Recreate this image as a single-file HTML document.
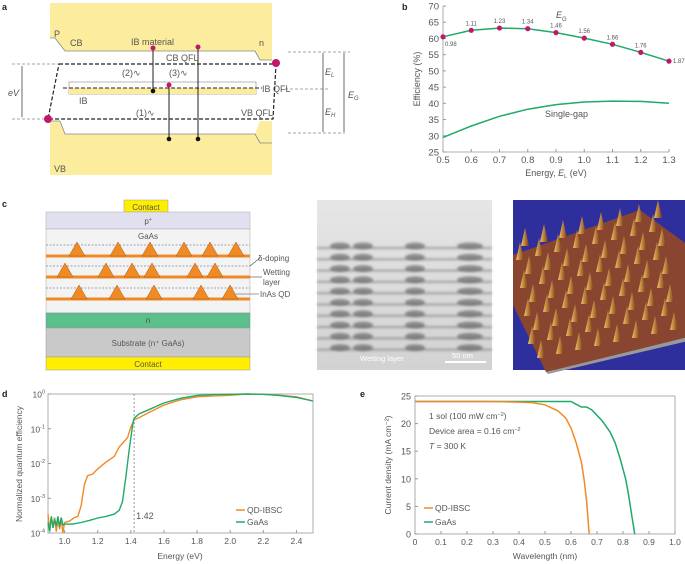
<!DOCTYPE html>
<html><head><meta charset="utf-8"><style>
body{margin:0;background:#fff}
svg{display:block;font-family:"Liberation Sans",sans-serif}
text{fill:#555}
</style></head><body>
<svg id="fig" width="685" height="564" viewBox="0 0 685 564">
<defs>
<linearGradient id="tem" x1="0" y1="0" x2="0" y2="1"><stop offset="0" stop-color="#e6e6e6"/><stop offset="1" stop-color="#d2d2d2"/></linearGradient>
<linearGradient id="cone" x1="0" y1="0" x2="1" y2="0"><stop offset="0" stop-color="#f3c46a"/><stop offset="1" stop-color="#7a3a10"/></linearGradient>
<filter id="blur"><feGaussianBlur stdDeviation="1.2"/></filter>
</defs>
<!-- Panel a -->
<g>
<text x="2" y="10" font-size="9" font-weight="bold" style="fill:#222">a</text>
<rect x="50" y="3" width="222" height="172" fill="#fbec9e"/>
<path d="M50,38 L55,38 L65,51 L255,51 L260,60 L272,60 L272,121 L260,121 L255,134 L65,134 L60,121 L50,121 Z" fill="#fff" stroke="none"/>
<path d="M50,38 L55,38 L65,51 L255,51 L260,60 L272,60" fill="none" stroke="#888" stroke-width="0.8"/>
<path d="M50,121 L60,121 L65,134 L255,134 L260,143 L272,143" fill="none" stroke="#888" stroke-width="0.8"/>
<rect x="69" y="82" width="187" height="12" fill="#fff" stroke="#999" stroke-width="0.7"/>
<rect x="69" y="88" width="187" height="6" fill="#fbec9e"/>
<path d="M59,64 L276,64 L273,119 L48,119 Z" fill="none" stroke="#222" stroke-width="1.2" stroke-dasharray="4,2"/>
<line x1="63" y1="88" x2="262" y2="88" stroke="#222" stroke-dasharray="4,2"/>
<line x1="12" y1="64" x2="59" y2="64" stroke="#888" stroke-width="0.7" stroke-dasharray="3,2"/>
<line x1="12" y1="119" x2="48" y2="119" stroke="#888" stroke-width="0.7" stroke-dasharray="3,2"/>
<line x1="22" y1="66" x2="22" y2="117" stroke="#444" stroke-width="0.8"/>
<line x1="288" y1="52" x2="350" y2="52" stroke="#888" stroke-width="0.7" stroke-dasharray="3,2"/>
<line x1="285" y1="89" x2="330" y2="89" stroke="#888" stroke-width="0.7" stroke-dasharray="3,2"/>
<line x1="288" y1="133" x2="345" y2="133" stroke="#888" stroke-width="0.7" stroke-dasharray="3,2"/>
<line x1="323" y1="53" x2="323" y2="132" stroke="#444" stroke-width="0.8"/>
<line x1="344" y1="53" x2="344" y2="132" stroke="#444" stroke-width="0.8"/>
<line x1="153" y1="49" x2="153" y2="91" stroke="#222"/>
<line x1="169" y1="85" x2="169" y2="139" stroke="#222"/>
<line x1="198" y1="49" x2="198" y2="139" stroke="#222"/>
<circle cx="153" cy="48" r="2.5" fill="#c2186b"/><circle cx="198" cy="47" r="2.5" fill="#c2186b"/><circle cx="169" cy="85" r="2.5" fill="#c2186b"/>
<circle cx="153" cy="91" r="2.3" fill="#111"/><circle cx="169" cy="139" r="2.3" fill="#111"/><circle cx="198" cy="139" r="2.3" fill="#111"/>
<circle cx="276" cy="63" r="4" fill="#c2186b"/><circle cx="48" cy="119" r="4" fill="#c2186b"/>
<g font-size="9">
<text x="54" y="37">P</text><text x="70" y="46">CB</text><text x="131" y="45">IB material</text><text x="259" y="46">n</text>
<text x="166" y="61">CB QFL</text><text x="122" y="76">(2)∿</text><text x="169" y="76">(3)∿</text>
<text x="79" y="104">IB</text><text x="136" y="116">(1)∿</text><text x="262" y="92">IB QFL</text><text x="241" y="116">VB QFL</text>
<text x="8" y="96" font-style="italic">eV</text><text x="325" y="75" font-style="italic">E<tspan font-size="6" dy="2">L</tspan></text>
<text x="325" y="115" font-style="italic">E<tspan font-size="6" dy="2">H</tspan></text><text x="348" y="98" font-style="italic">E<tspan font-size="6" dy="2">G</tspan></text>
<text x="54" y="172">VB</text></g>
</g>
<!-- Panel b -->
<g id="pb">
<text x="402" y="10" font-size="9" font-weight="bold" style="fill:#222">b</text>
</g>
<!-- Panel c -->
<g>
<text x="2" y="207" font-size="9" font-weight="bold" style="fill:#222">c</text>
<rect x="124" y="200" width="44" height="12" fill="#ffee00" stroke="#999" stroke-width="0.5"/>
<text x="146" y="210" font-size="8" text-anchor="middle">Contact</text>
<rect x="46" y="212" width="204" height="17" fill="#e1e0ef" stroke="#aaa" stroke-width="0.5"/>
<text x="148" y="224" font-size="8" text-anchor="middle">p<tspan font-size="5" dy="-3">+</tspan></text>
<rect x="46" y="229" width="204" height="84" fill="#f3f3f3" stroke="#aaa" stroke-width="0.5"/>
<text x="148" y="239" font-size="8" text-anchor="middle">GaAs</text>
<rect x="46" y="313" width="204" height="15" fill="#5cc08a" stroke="#888" stroke-width="0.5"/>
<text x="148" y="323" font-size="8" text-anchor="middle">n</text>
<rect x="46" y="328" width="204" height="29" fill="#c9c9c9" stroke="#999" stroke-width="0.5"/>
<text x="148" y="346" font-size="8" text-anchor="middle">Substrate (n⁺ GaAs)</text>
<rect x="46" y="357" width="204" height="13" fill="#ffee00" stroke="#999" stroke-width="0.5"/>
<text x="148" y="367" font-size="8" text-anchor="middle">Contact</text>
<g id="layers"></g>
<g font-size="8"><text x="258" y="261">δ-doping</text><text x="263" y="275">Wetting</text><text x="263" y="285">layer</text><text x="260" y="297">InAs QD</text></g>
<line x1="250" y1="266" x2="260" y2="258" stroke="#444" stroke-width="0.6"/>
<line x1="250" y1="277" x2="262" y2="277" stroke="#444" stroke-width="0.6"/>
<line x1="236" y1="294" x2="259" y2="294" stroke="#444" stroke-width="0.6"/>
<rect x="317" y="200" width="175" height="170" fill="url(#tem)"/>
<g id="tem-bands" filter="url(#blur)"></g>
<text x="360" y="361" font-size="7.5" style="fill:#fff">Wetting layer</text>
<line x1="445" y1="362" x2="486" y2="362" stroke="#fff" stroke-width="2"/>
<text x="452" y="358" font-size="7.5" style="fill:#fff">50 nm</text>
<rect x="513" y="200" width="175" height="170" fill="#2e2f9c"/>
<polygon points="513,255 640,210 688,245 688,337 546,372 513,305" fill="#8a4530"/>
<polygon points="546,372 688,337 688,341 548,374" fill="#999"/>
<g id="cones"></g>
</g>
<!-- Panel d -->
<g id="pd">
<text x="2" y="397" font-size="9" font-weight="bold" style="fill:#222">d</text>
</g>
<!-- Panel e -->
<g id="pe">
<text x="360" y="397" font-size="9" font-weight="bold" style="fill:#222">e</text>
</g>
</svg>
<script>
// Panel b data
const bEnergy=[0.5,0.6,0.7,0.8,0.9,1.0,1.1,1.2,1.3];
const bIB=[60.5,62.5,63.2,63.0,61.8,60.1,58.2,55.7,53.0];
const bEG=["0.98","1.11","1.23","1.34","1.46","1.56","1.66","1.76","1.87"];
const bSingle=[29.5,33.0,36.0,38.2,39.6,40.4,40.7,40.6,40.0];
const bXTicks=[0.5,0.6,0.7,0.8,0.9,1.0,1.1,1.2,1.3];
const bYTicks=[25,30,35,40,45,50,55,60,65,70];
// Panel d data
const dEnergyQD=[0.9,0.91,0.92,0.93,0.94,0.95,0.96,0.97,0.98,0.99,1.0,1.03,1.06,1.08,1.1,1.12,1.14,1.17,1.2,1.25,1.3,1.33,1.35,1.38,1.4,1.42,1.45,1.5,1.6,1.7,1.8,1.9,2.0,2.1,2.2,2.3,2.4,2.5];
const dQD=[3.5e-4,1.2e-4,3e-4,1.5e-4,2.8e-4,1.1e-4,2.5e-4,1.3e-4,2.6e-4,1e-4,2e-4,2.2e-4,2.8e-4,3e-4,6e-4,2.5e-3,4.5e-3,5e-3,7e-3,1.1e-2,1.6e-2,3e-2,3.8e-2,5.5e-2,1.1e-1,1.8e-1,2.1e-1,2.8e-1,4.8e-1,6.8e-1,8.3e-1,8.8e-1,9.2e-1,1.0,9.8e-1,9.2e-1,8.3e-1,6.3e-1];
const dEnergyGaAs=[0.9,0.91,0.92,0.93,0.94,0.95,0.96,0.97,0.98,0.99,1.0,1.05,1.1,1.15,1.2,1.25,1.3,1.33,1.35,1.37,1.39,1.41,1.42,1.45,1.5,1.6,1.7,1.8,1.9,2.0,2.1,2.2,2.3,2.4,2.5];
const dGaAs=[2e-4,1.1e-4,3e-4,1.4e-4,2.5e-4,1.6e-4,3e-4,1.5e-4,2.8e-4,1.7e-4,1.8e-4,1.8e-4,2e-4,2.3e-4,2.7e-4,3e-4,3.5e-4,4.5e-4,8e-4,4e-3,2.5e-2,1.2e-1,2e-1,2.7e-1,3.4e-1,5.5e-1,7.5e-1,9.1e-1,9.6e-1,9.8e-1,1.0,9.8e-1,9e-1,8e-1,6.3e-1];
const dXTicks=[1.0,1.2,1.4,1.6,1.8,2.0,2.2,2.4];
const dYExp=[0,-1,-2,-3,-4];
// Panel e data
const eVqd=[0,0.1,0.2,0.3,0.4,0.45,0.5,0.55,0.58,0.6,0.62,0.64,0.65,0.66,0.67];
const eJqd=[24,24,24,24,23.9,23.8,23.4,22.3,21,19.2,16.5,13,10,6,0];
const eVgaas=[0,0.1,0.2,0.3,0.4,0.5,0.6,0.62,0.64,0.66,0.68,0.7,0.72,0.75,0.77,0.79,0.81,0.82,0.83,0.84,0.845];
const eJgaas=[24,24,24,24,24,24,24,23.5,23,23,22.5,21.5,20.5,18.5,16.5,13.5,10,7.5,4.5,1.5,0];
const eXTicks=[0,0.1,0.2,0.3,0.4,0.5,0.6,0.7,0.8,0.9,1.0];
const eYTicks=[0,5,10,15,20,25];

const NS="http://www.w3.org/2000/svg";
function mk(parent,tag,attrs,txt){const e=document.createElementNS(NS,tag);for(const k in attrs)e.setAttribute(k,attrs[k]);if(txt!==undefined)e.textContent=txt;parent.appendChild(e);return e;}
const GREEN="#1faa6a",ORANGE="#f08a24",AX="#999";

// Panel b
(function(){const g=document.getElementById('pb');
const X0=443,X1=669,Y0=152,Y1=6;
const sx=v=>X0+(v-0.5)/(0.8)*(X1-X0), sy=v=>Y0-(v-25)/45*(Y0-Y1);
const ax=mk(g,'path',{d:`M${X0},${Y1} L${X0},${Y0} L${X1},${Y0}`,fill:'none',stroke:AX,'stroke-width':0.8});

bYTicks.forEach(t=>{mk(g,'line',{x1:X0,x2:X0+3,y1:sy(t),y2:sy(t),stroke:AX});const l=mk(g,'text',{x:X0-4,y:sy(t)+3.5,'font-size':9.5,'text-anchor':'end'},t);
});
bXTicks.forEach(t=>{mk(g,'line',{x1:sx(t),x2:sx(t),y1:Y0,y2:Y0-3,stroke:AX});const l=mk(g,'text',{x:sx(t),y:Y0+11,'font-size':9.5,'text-anchor':'middle'},t.toFixed(1));
});
const line=(xs,ys)=>xs.map((x,i)=>(i?'L':'M')+sx(x).toFixed(1)+','+sy(ys[i]).toFixed(1)).join(' ');
const l1=mk(g,'path',{d:line(bEnergy,bIB),fill:'none',stroke:GREEN,'stroke-width':1.5});

const l2=mk(g,'path',{d:line(bEnergy,bSingle),fill:'none',stroke:GREEN,'stroke-width':1.5});

bEnergy.forEach((x,i)=>{const c=mk(g,'circle',{cx:sx(x),cy:sy(bIB[i]),r:2.6,fill:'#c2186b'});

let tx=sx(x),ty=sy(bIB[i])-5,anc='middle';if(i===0){tx+=2;ty=sy(bIB[i])+9;anc='start';}if(i===bEnergy.length-1){tx+=4;ty=sy(bIB[i])+2;anc='start';}
const t=mk(g,'text',{x:tx,y:ty,'font-size':6,'text-anchor':anc},bEG[i]);});
const eg=mk(g,'text',{x:556,y:18,'font-size':9,'font-style':'italic'},'E');mk(eg,'tspan',{dy:3,'font-size':6,'font-style':'normal'},'G');
mk(g,'text',{x:545,y:117,'font-size':9},'Single-gap');
const yl=mk(g,'text',{x:0,y:0,'font-size':9,'text-anchor':'middle',transform:`translate(420,79) rotate(-90)`},'Efficiency (%)');

const xl=mk(g,'text',{x:556,y:176,'font-size':9,'text-anchor':'middle'},'Energy, ');

mk(xl,'tspan',{'font-style':'italic'},'E');mk(xl,'tspan',{dy:2,'font-size':5.5},'L');mk(xl,'tspan',{dy:-2},' (eV)');
})();

// Panel c layers
(function(){const g=document.getElementById('layers');
const rows=[{y:256,xs:[77,118,150,184,210,236]},{y:277,xs:[65,106,132,152,195,215]},{y:299,xs:[79,117,154,201,230]}];
rows.forEach(r=>{mk(g,'line',{x1:46,x2:250,y1:r.y-11,y2:r.y-11,stroke:'#555','stroke-width':0.6,'stroke-dasharray':'2,1.5'});
mk(g,'rect',{x:46,y:r.y-1.5,width:204,height:3,fill:ORANGE});
r.xs.forEach(x=>{const p=mk(g,'polygon',{points:`${x-8},${r.y} ${x+8},${r.y} ${x},${r.y-14}`,fill:ORANGE,stroke:'#a85a10','stroke-width':0.5});
});});
const t=document.getElementById('tem-bands');
for(let i=0;i<10;i++){const y=247+i*11.3;mk(t,'rect',{x:317,y:y,width:175,height:2,fill:'#777',opacity:0.6});
[340,363,415,470].forEach(x=>mk(t,'ellipse',{cx:x,cy:y-1,rx:x===470?13:10,ry:3.5,fill:'#555',opacity:0.6}));}
const c=document.getElementById('cones');
for(let r=0;r<9;r++){for(let k=0;k<8;k++){const x=525+k*19+r*2-(r%2)*7,y=232+r*14-k*4;if(x<520||x>684)continue;
mk(c,'polygon',{points:`${x-4},${y+14} ${x+4},${y+14} ${x},${y-4}`,fill:'url(#cone)'});}}
})();

// Panel d
(function(){const g=document.getElementById('pd');
const X0=48,X1=313,Y0=533,Y1=394;
const sx=v=>X0+(v-0.9)/1.6*(X1-X0), sy=v=>Y1+(-Math.log10(v))/4*(Y0-Y1);
mk(g,'rect',{x:X0,y:Y1,width:X1-X0,height:Y0-Y1,fill:'none',stroke:AX,'stroke-width':0.8});
dYExp.forEach(e=>{const y=sy(Math.pow(10,e));mk(g,'line',{x1:X0,x2:X0+3,y1:y,y2:y,stroke:AX});
const t=mk(g,'text',{x:X0-3,y:y+3.5,'font-size':8.5,'text-anchor':'end'},'10');mk(t,'tspan',{dy:-4,'font-size':5.5},String(e));
});
dXTicks.forEach(v=>{mk(g,'line',{x1:sx(v),x2:sx(v),y1:Y0,y2:Y0-3,stroke:AX});const t=mk(g,'text',{x:sx(v),y:Y0+11,'font-size':8.5,'text-anchor':'middle'},v.toFixed(1));
});
const vl=mk(g,'line',{x1:sx(1.42),x2:sx(1.42),y1:Y1,y2:Y0,stroke:'#999','stroke-dasharray':'2,2'});

mk(g,'text',{x:sx(1.42)+2,y:519,'font-size':9},'1.42');
const line=(xs,ys)=>xs.map((x,i)=>(i?'L':'M')+sx(x).toFixed(1)+','+sy(ys[i]).toFixed(1)).join(' ');
const a=mk(g,'path',{d:line(dEnergyQD,dQD),fill:'none',stroke:ORANGE,'stroke-width':1.4});

const b=mk(g,'path',{d:line(dEnergyGaAs,dGaAs),fill:'none',stroke:GREEN,'stroke-width':1.4});

mk(g,'line',{x1:236,x2:245,y1:510,y2:510,stroke:ORANGE,'stroke-width':1.5});mk(g,'text',{x:247,y:513,'font-size':8.5},'QD-IBSC');
mk(g,'line',{x1:236,x2:245,y1:522,y2:522,stroke:GREEN,'stroke-width':1.5});mk(g,'text',{x:247,y:525,'font-size':8.5},'GaAs');
const yl=mk(g,'text',{x:0,y:0,'font-size':8.5,'text-anchor':'middle',transform:'translate(22,464) rotate(-90)'},'Normalized quantum efficiency');

const xl=mk(g,'text',{x:180,y:559,'font-size':8.5,'text-anchor':'middle'},'Energy (eV)');

})();

// Panel e
(function(){const g=document.getElementById('pe');
const X0=415,X1=675,Y0=534,Y1=396;
const sx=v=>X0+v*(X1-X0), sy=v=>Y0-v/25*(Y0-Y1);
mk(g,'rect',{x:X0,y:Y1,width:X1-X0,height:Y0-Y1,fill:'none',stroke:AX,'stroke-width':0.8});
eYTicks.forEach(t=>{mk(g,'line',{x1:X0,x2:X0+3,y1:sy(t),y2:sy(t),stroke:AX});const l=mk(g,'text',{x:X0-4,y:sy(t)+3.5,'font-size':9,'text-anchor':'end'},t);
});
eXTicks.forEach(t=>{mk(g,'line',{x1:sx(t),x2:sx(t),y1:Y0,y2:Y0-3,stroke:AX});const l=mk(g,'text',{x:sx(t),y:Y0+11,'font-size':8.5,'text-anchor':'middle'},t===0?'0':t.toFixed(1));
});
const line=(xs,ys)=>xs.map((x,i)=>(i?'L':'M')+sx(x).toFixed(1)+','+sy(ys[i]).toFixed(1)).join(' ');
const b=mk(g,'path',{d:line(eVgaas,eJgaas),fill:'none',stroke:GREEN,'stroke-width':1.5});

const a=mk(g,'path',{d:line(eVqd,eJqd),fill:'none',stroke:ORANGE,'stroke-width':1.5});

const t1=mk(g,'text',{x:429,y:419,'font-size':8.5},'1 sol (100 mW cm');mk(t1,'tspan',{dy:-3,'font-size':5.5},'−2');mk(t1,'tspan',{dy:3},')');
const t2=mk(g,'text',{x:429,y:434,'font-size':8.5},'Device area = 0.16 cm');mk(t2,'tspan',{dy:-3,'font-size':5.5},'−2');
const t3=mk(g,'text',{x:429,y:449,'font-size':8.5});mk(t3,'tspan',{'font-style':'italic'},'T');mk(t3,'tspan',{},' = 300 K');
mk(g,'line',{x1:424,x2:433,y1:508,y2:508,stroke:ORANGE,'stroke-width':1.5});mk(g,'text',{x:435,y:511,'font-size':8.5},'QD-IBSC');
mk(g,'line',{x1:424,x2:433,y1:522,y2:522,stroke:GREEN,'stroke-width':1.5});mk(g,'text',{x:435,y:525,'font-size':8.5},'GaAs');
const yl=mk(g,'text',{x:0,y:0,'font-size':8.5,'text-anchor':'middle',transform:'translate(391,465) rotate(-90)'},'Current density (mA cm⁻²)');

const xl=mk(g,'text',{x:545,y:559,'font-size':8.5,'text-anchor':'middle'},'Wavelength (nm)');

})();
</script>
</body></html>
